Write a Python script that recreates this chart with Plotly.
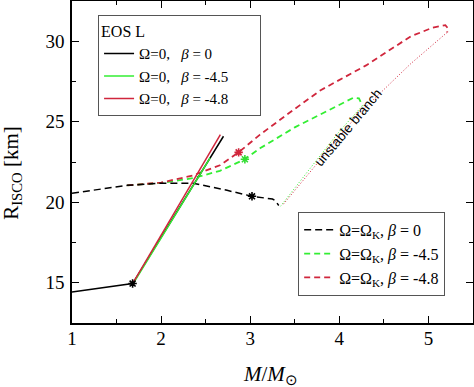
import plotly.graph_objects as go

# Static (Omega=0) sequences
m_s0 = [1.0, 1.68, 2.70]
r_s0 = [14.42, 14.95, 24.10]
m_s45 = [1.69, 2.55]
r_s45 = [14.97, 22.75]
m_s48 = [1.68, 2.665]
r_s48 = [14.95, 24.20]

# Kepler (Omega=Omega_K) sequences - stable part (dashed)
m_k0 = [1.0, 1.3, 1.62, 2.0, 2.36, 2.74, 3.02, 3.25, 3.28, 3.32]
r_k0 = [20.56, 20.8, 21.05, 21.18, 21.18, 20.74, 20.37, 20.2, 20.1, 19.8]
m_k45 = [1.62, 2.0, 2.36, 2.66, 2.94, 3.11, 3.5, 3.87, 4.16, 4.22, 4.26]
r_k45 = [21.05, 21.2, 21.5, 21.95, 22.67, 23.35, 24.65, 25.7, 26.5, 26.45, 26.0]
m_k48 = [1.62, 2.0, 2.36, 2.66, 2.87, 3.11, 3.5, 3.79, 4.3, 4.8, 5.05, 5.19, 5.22, 5.21]
r_k48 = [21.05, 21.22, 21.67, 22.3, 23.1, 24.2, 25.8, 26.96, 28.5, 30.3, 30.85, 31.0, 30.8, 30.55]

# Unstable branches (dotted)
m_u45 = [4.26, 4.0, 3.7, 3.34]
r_u45 = [26.0, 24.4, 22.3, 19.75]
m_u48 = [5.21, 4.8, 4.2, 3.7, 3.36]
r_u48 = [30.55, 28.6, 25.4, 22.1, 19.8]

# Marked points (stars)
star_m = [1.68, 3.02, 2.94, 2.87]
star_r = [14.95, 20.37, 22.67, 23.1]
star_c = ["black", "black", "#33dd33", "#d0263c"]

BLACK = "black"
GREEN = "#33ee33"
RED = "#d0263c"
FONT = "Liberation Serif, Times New Roman, serif"
SP = "&nbsp;&nbsp;&nbsp;"
TAIL = "&nbsp;" * 7

fig = go.Figure()

fig.add_trace(go.Scatter(x=m_k45, y=r_k45, mode="lines", line=dict(color=GREEN, width=1.8, dash="6px,4px"),
                         name="Ω=Ω<sub>K</sub>, <i>β</i> = -4.5", legend="legend2", legendrank=2))
fig.add_trace(go.Scatter(x=m_k48, y=r_k48, mode="lines", line=dict(color=RED, width=1.8, dash="6px,4px"),
                         name="Ω=Ω<sub>K</sub>, <i>β</i> = -4.8", legend="legend2", legendrank=3))
fig.add_trace(go.Scatter(x=m_k0, y=r_k0, mode="lines", line=dict(color=BLACK, width=1.5, dash="7px,4px"),
                         name="Ω=Ω<sub>K</sub>, <i>β</i> = 0", legend="legend2", legendrank=1))
fig.add_trace(go.Scatter(x=m_u45, y=r_u45, mode="lines", line=dict(color=GREEN, width=1, dash="1px,2px"),
                         showlegend=False))
fig.add_trace(go.Scatter(x=m_u48, y=r_u48, mode="lines", line=dict(color=RED, width=1, dash="1px,2px"),
                         showlegend=False))

fig.add_trace(go.Scatter(x=m_s0, y=r_s0, mode="lines", line=dict(color=BLACK, width=1.5),
                         name="Ω=0," + SP + "<i>β</i> = 0", legend="legend", legendrank=1))
fig.add_trace(go.Scatter(x=m_s45, y=r_s45, mode="lines", line=dict(color=GREEN, width=1.5),
                         name="Ω=0," + SP + "<i>β</i> = -4.5", legend="legend", legendrank=2))
fig.add_trace(go.Scatter(x=m_s48, y=r_s48, mode="lines", line=dict(color=RED, width=1.5),
                         name="Ω=0," + SP + "<i>β</i> = -4.8" + TAIL, legend="legend", legendrank=3))

fig.add_trace(go.Scatter(x=star_m, y=star_r, mode="markers", showlegend=False,
                         marker=dict(symbol="asterisk", size=7, line=dict(color=star_c, width=1.6))))

fig.add_annotation(x=4.1, y=24.65, text="unstable branch", showarrow=False, textangle=-50,
                   font=dict(family="Liberation Sans, Arial, sans-serif", size=13.5, color="black"))

# axis titles as annotations for exact placement
fig.add_annotation(xref="paper", yref="paper", x=0.495, y=-0.16, yanchor="middle",
                   text="<i>M</i>/<i>M</i><sub>⊙</sub>", showarrow=False,
                   font=dict(family=FONT, size=21, color="black"))
fig.add_annotation(xref="paper", yref="paper", x=-0.15, y=0.466, xanchor="center", yanchor="middle",
                   text="R<sub>ISCO</sub> [km]", showarrow=False, textangle=-90,
                   font=dict(family=FONT, size=21, color="black"))

axis_common = dict(showline=True, linecolor="black", linewidth=1.5, mirror="allticks",
                   ticks="inside", ticklen=7, tickwidth=1.3, tickcolor="black",
                   showgrid=False, zeroline=False, automargin=False,
                   tickfont=dict(family=FONT, size=19, color="black"))

fig.update_xaxes(range=[1, 5.5], dtick=1, tick0=1,
                 minor=dict(dtick=0.5, tick0=1, ticks="inside", ticklen=4, tickcolor="black"),
                 ticklabelstandoff=-3,
                 **axis_common)
fig.update_yaxes(range=[12.5, 32.5], dtick=5, tick0=15,
                 minor=dict(dtick=2.5, tick0=12.5, ticks="inside", ticklen=4, tickcolor="black"),
                 ticklabelstandoff=2,
                 **axis_common)

fig.update_layout(
    width=474, height=387,
    margin=dict(l=72, r=1, t=1, b=64),
    paper_bgcolor="white", plot_bgcolor="white",
    legend=dict(x=0.065, y=0.955, xanchor="left", yanchor="top",
                bordercolor="#555555", borderwidth=1, bgcolor="white",
                title=dict(text="EOS L", font=dict(family=FONT, size=16, color="black")),
                font=dict(family=FONT, size=15, color="black"),
                tracegroupgap=0, itemwidth=30),
    legend2=dict(x=0.564, y=0.345, xanchor="left", yanchor="top",
                 bordercolor="#555555", borderwidth=1, bgcolor="white",
                 font=dict(family=FONT, size=16, color="black"),
                 tracegroupgap=0, itemwidth=30),
)

fig.write_html("out.html", config={"displayModeBar": False},
               post_script="document.body.style.margin='0px';")
